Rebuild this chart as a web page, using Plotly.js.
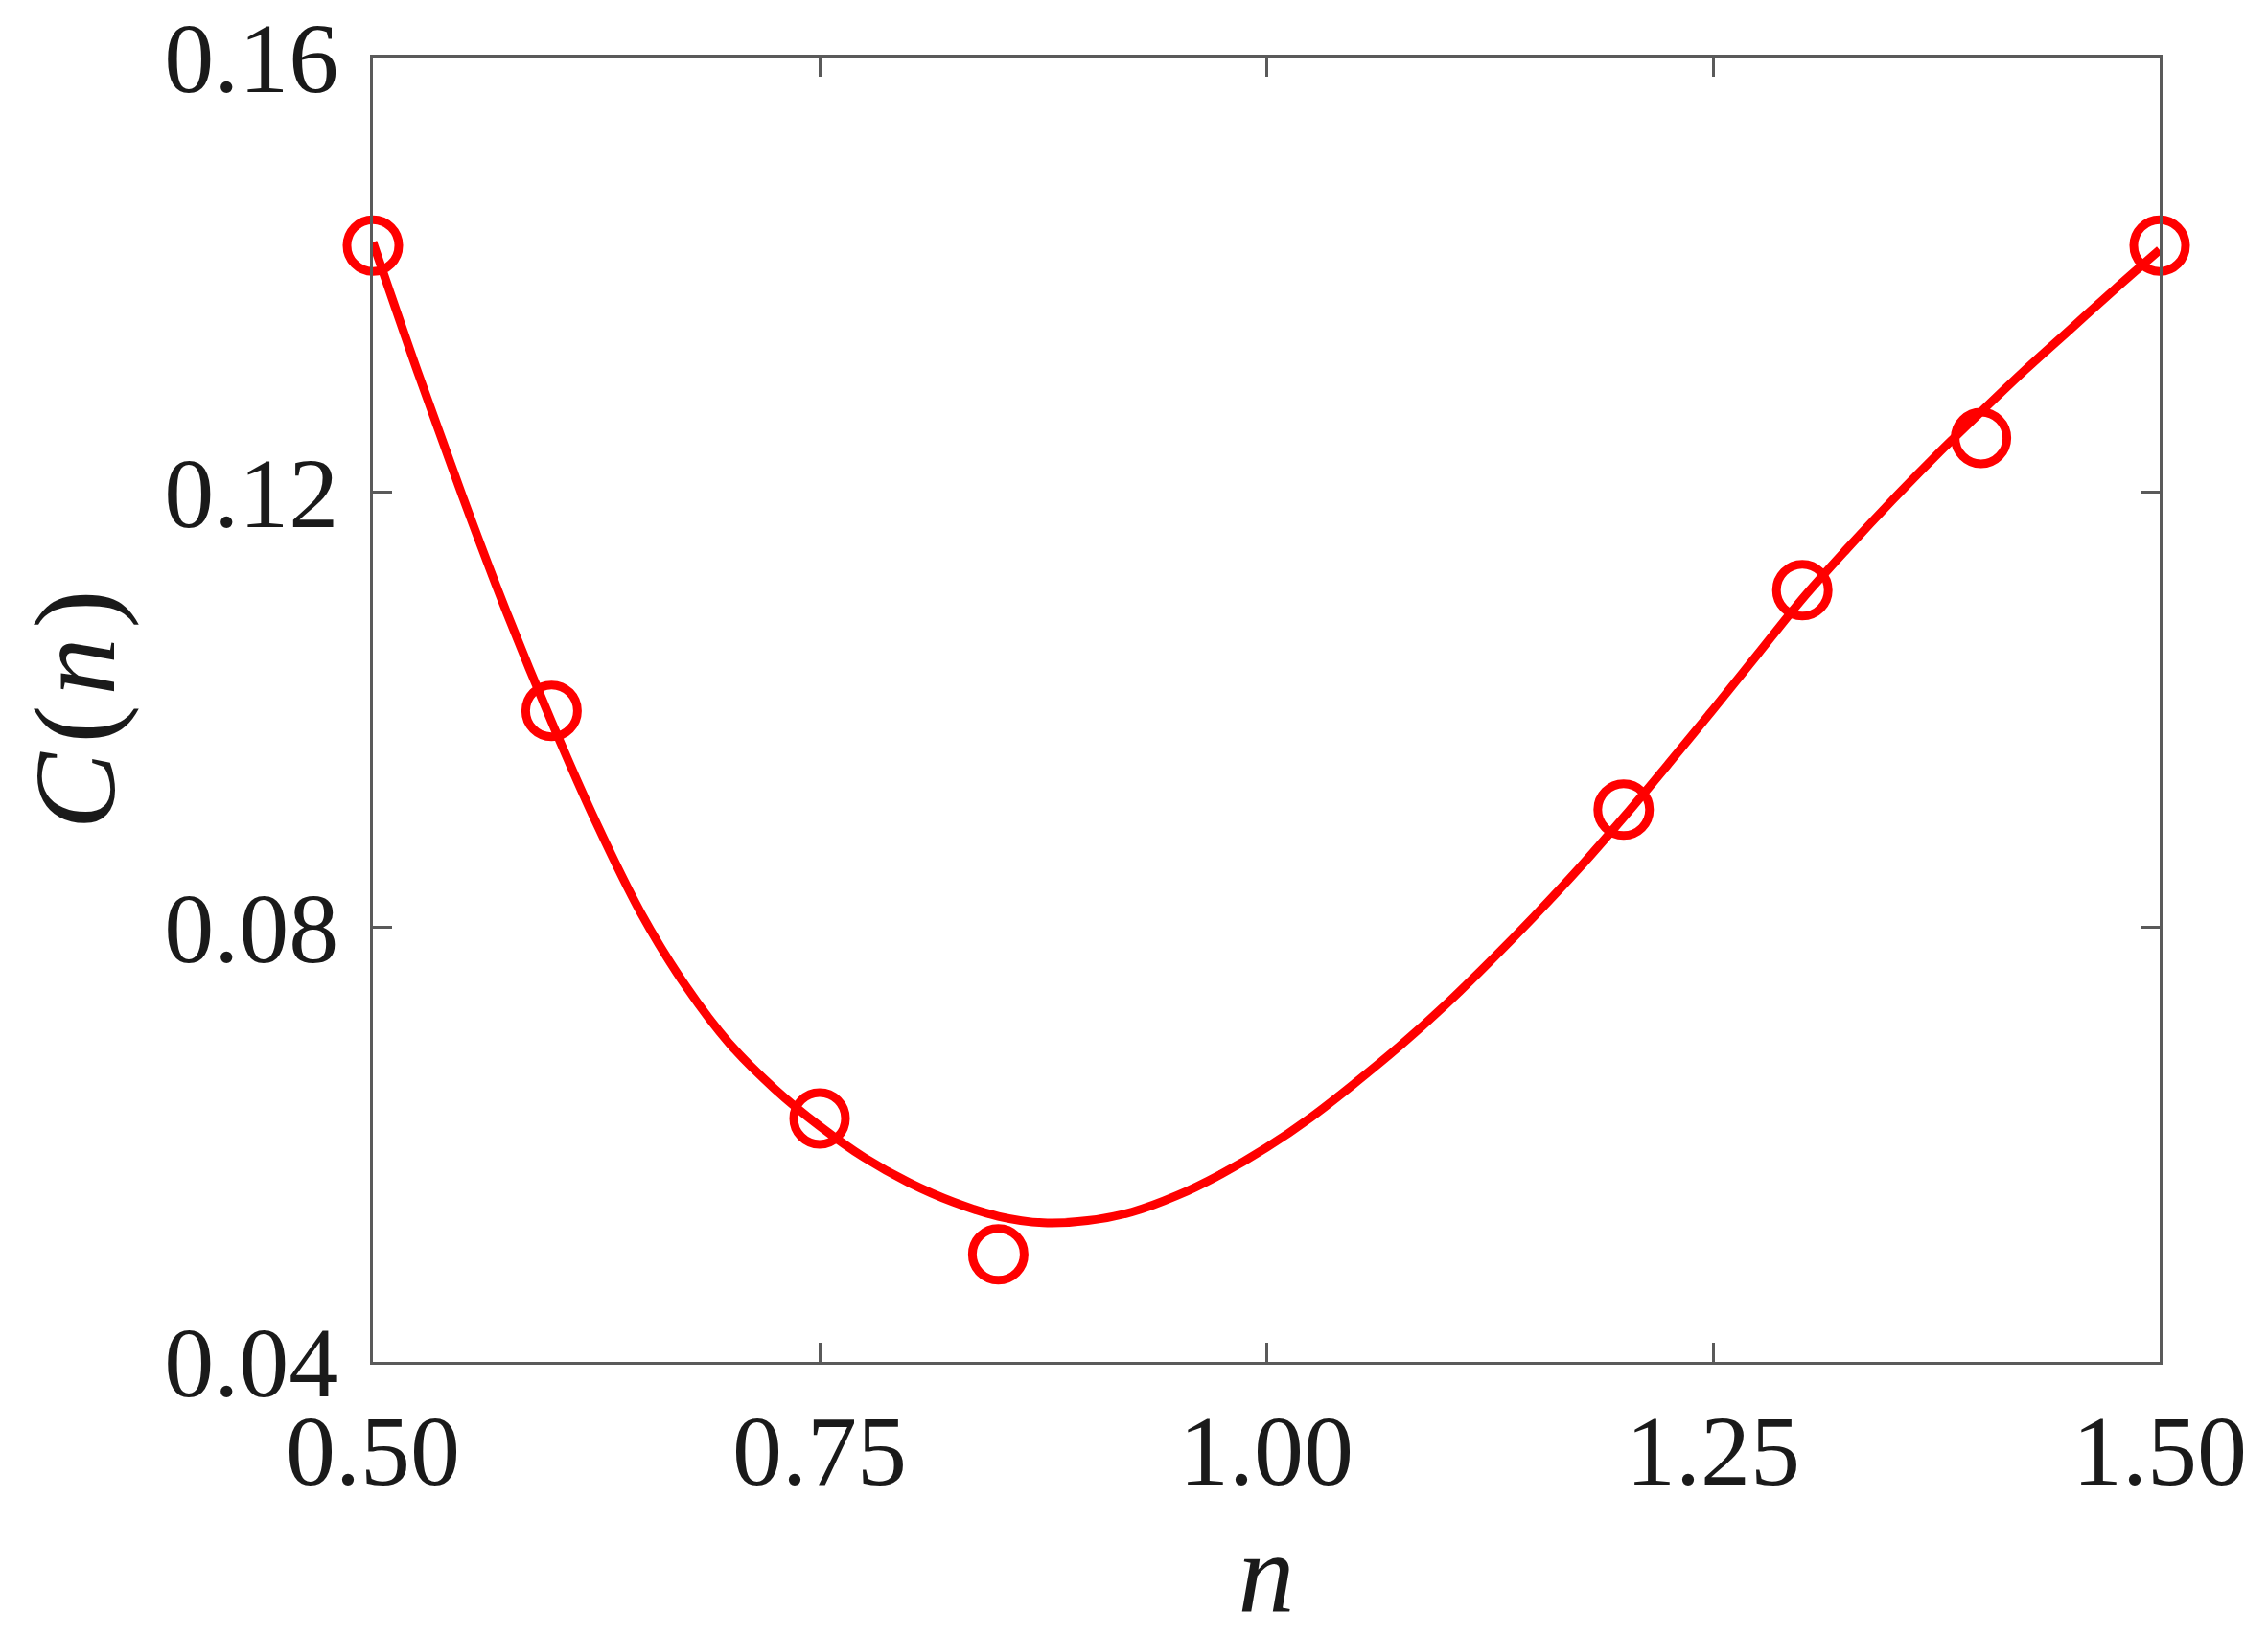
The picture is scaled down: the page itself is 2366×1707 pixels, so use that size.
<!DOCTYPE html>
<html>
<head>
<meta charset="utf-8">
<script src="https://cdn.plot.ly/plotly-3.0.1.min.js"></script>
<style>html,body{margin:0;padding:0;background:#fff;}</style>
</head>
<body>
<div id="chart" style="width:2366px;height:1707px;"></div>
<script>
// Measured points
const nPoints = [0.50, 0.60, 0.75, 0.85, 1.20, 1.30, 1.40, 1.50];
const cPoints = [0.1427, 0.0999, 0.0624, 0.0499, 0.0908, 0.1110, 0.1250, 0.1427];

// Fitted curve, every 0.025
const nCurve = [0.500, 0.525, 0.550, 0.575, 0.600, 0.625, 0.650, 0.675, 0.700, 0.725,
                0.750, 0.775, 0.800, 0.825, 0.850, 0.875, 0.900, 0.925, 0.950, 0.975,
                1.000, 1.025, 1.050, 1.075, 1.100, 1.125, 1.150, 1.175, 1.200, 1.225,
                1.250, 1.275, 1.300, 1.325, 1.350, 1.375, 1.400, 1.425, 1.450, 1.475, 1.500];
const cCurve = [0.1430, 0.1311, 0.1197, 0.1089, 0.0989, 0.0896, 0.0813, 0.0746, 0.0692, 0.0651,
                0.0617, 0.0588, 0.0565, 0.0547, 0.0534, 0.0528, 0.0530, 0.0538, 0.0553, 0.0573,
                0.0597, 0.0625, 0.0657, 0.0691, 0.0728, 0.0768, 0.0810, 0.0854, 0.0901, 0.0950,
                0.1000, 0.1051, 0.1102, 0.1148, 0.1192, 0.1234, 0.1274, 0.1313, 0.1350, 0.1387, 0.1423];

const xTickVals = [0.50, 0.75, 1.00, 1.25, 1.50];
const xTickText = ["0.50", "0.75", "1.00", "1.25", "1.50"];
const yTickVals = [0.04, 0.08, 0.12, 0.16];
const yTickText = ["0.04", "0.08", "0.12", "0.16"];

const red = "#ff0000";
const axisColor = "#5a5a5a";
const textColor = "#1a1a1a";
const serif = "Liberation Serif, Times New Roman, serif";

const traces = [
  {
    x: nPoints, y: cPoints, type: "scatter", mode: "markers",
    marker: {symbol: "circle-open", size: 54, color: red, line: {width: 9, color: red}},
    cliponaxis: false, showlegend: false, hoverinfo: "x+y"
  },
  {
    x: nCurve, y: cCurve, type: "scatter", mode: "lines",
    line: {color: red, width: 9, shape: "spline", smoothing: 1.0},
    cliponaxis: false, showlegend: false, hoverinfo: "x+y"
  }
];

const layout = {
  width: 2366, height: 1707,
  paper_bgcolor: "#ffffff", plot_bgcolor: "#ffffff",
  margin: {l: 389, r: 113, t: 60, b: 286, pad: 0},
  font: {family: serif, color: textColor, size: 104},
  xaxis: {
    range: [0.5, 1.5], tickvals: xTickVals, ticktext: xTickText,
    showgrid: false, zeroline: false,
    showline: true, linecolor: axisColor, linewidth: 3, mirror: "ticks",
    ticks: "inside", ticklen: 20, tickwidth: 3, tickcolor: axisColor,
    tickfont: {family: serif, size: 104, color: textColor},
    ticklabelstandoff: 0,
    title: {text: "<i>n</i>", font: {family: serif, size: 118, color: textColor}, standoff: 33}
  },
  yaxis: {
    range: [0.04, 0.16], tickvals: yTickVals, ticktext: yTickText,
    showgrid: false, zeroline: false,
    showline: true, linecolor: axisColor, linewidth: 3, mirror: "ticks",
    ticks: "inside", ticklen: 20, tickwidth: 3, tickcolor: axisColor,
    tickfont: {family: serif, size: 104, color: textColor},
    ticklabelstandoff: 12,
    title: {text: "<i>C</i>\u200a(\u200a<i>n</i>\u200a)", font: {family: serif, size: 120, color: textColor}, standoff: 12}
  }
};

Plotly.newPlot("chart", traces, layout, {displayModeBar: false, staticPlot: true});
</script>
</body>
</html>
